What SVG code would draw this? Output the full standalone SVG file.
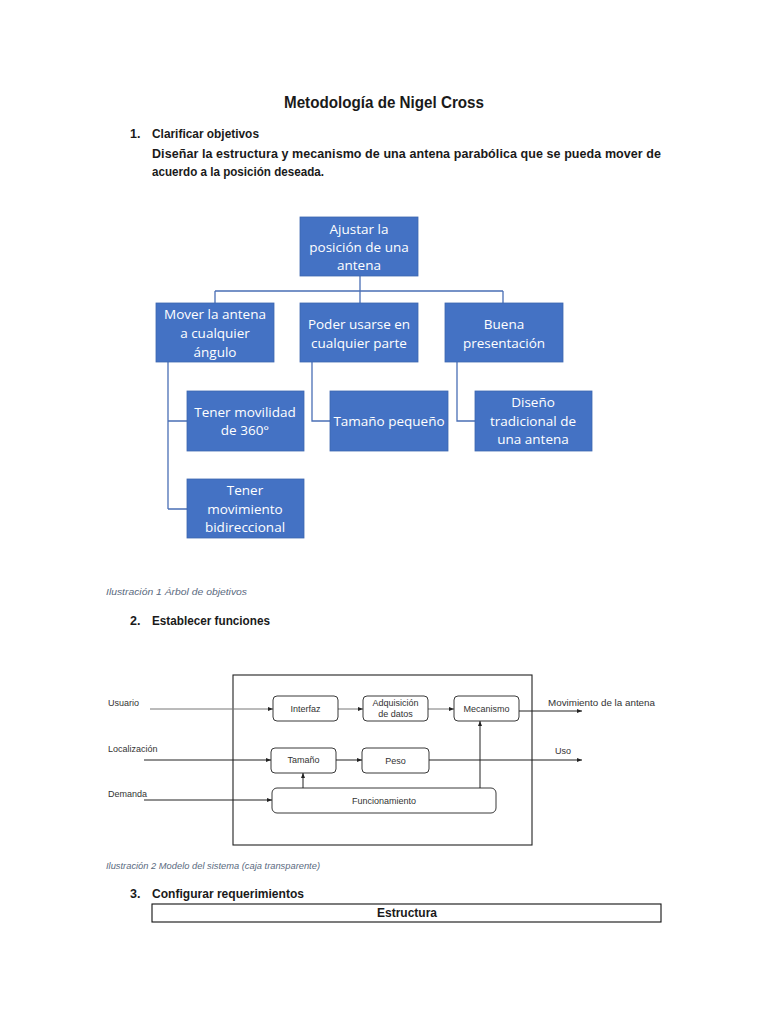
<svg xmlns="http://www.w3.org/2000/svg" width="768" height="1024" viewBox="0 0 768 1024">
<defs>
<style>
.h{font-family:"Liberation Sans",Arial,sans-serif;font-weight:bold;fill:#1a1a1a}
.b{font-family:"Liberation Sans",Arial,sans-serif;font-weight:bold;font-size:12.5px;fill:#1a1a1a}
.box{fill:#4472C4;stroke:#3d66b0;stroke-width:0.8}
.bt{font-family:"Open Sans","Noto Sans",sans-serif;font-size:13.5px;fill:#ffffff;text-anchor:middle}
.tl{fill:none;stroke:#4a6fb5;stroke-width:1.3}
.cap{font-family:"Liberation Sans",Arial,sans-serif;font-style:italic;font-size:9.5px;fill:#5a6a80}
.sb{fill:#ffffff;stroke:#222;stroke-width:0.9}
.st{font-family:"Liberation Sans",Arial,sans-serif;font-size:9px;fill:#333;text-anchor:middle}
.sl{font-family:"Liberation Sans",Arial,sans-serif;font-size:9px;fill:#333}
.ln{fill:none;stroke:#222;stroke-width:1;marker-end:url(#ah)}
.lg{fill:none;stroke:#777;stroke-width:1;marker-end:url(#ah)}
</style>
<marker id="ah" markerWidth="6" markerHeight="6" refX="5" refY="3" orient="auto" markerUnits="userSpaceOnUse">
<path d="M0,1 L5,3 L0,5 Z" fill="#222"/>
</marker>
</defs>
<rect width="768" height="1024" fill="#ffffff"/>

<text class="h" x="384" y="108" font-size="16" text-anchor="middle" textLength="200" lengthAdjust="spacingAndGlyphs">Metodología de Nigel Cross</text>
<text class="b" x="130" y="138">1.</text>
<text class="b" x="152" y="138" textLength="107" lengthAdjust="spacingAndGlyphs">Clarificar objetivos</text>
<text class="b" x="152" y="158" textLength="509" lengthAdjust="spacing">Diseñar la estructura y mecanismo de una antena parabólica que se pueda mover de</text>
<text class="b" x="152" y="176" textLength="172" lengthAdjust="spacingAndGlyphs">acuerdo a la posición deseada.</text>

<g id="tree-connectors">
<path class="tl" d="M360,276 V303 M215,291 H503 M215,291 V303 M503,291 V303"/>
<path class="tl" d="M168,362 V509 M168,421 H187 M168,509 H187"/>
<path class="tl" d="M312,362 V421 H330"/>
<path class="tl" d="M457,362 V421 H475"/>
</g>
<g id="n-ajustar"><rect class="box" x="300" y="217" width="118" height="59"/>
<text class="bt" x="359" y="234">Ajustar la</text><text class="bt" x="359" y="252">posición de una</text><text class="bt" x="359" y="270">antena</text></g>
<g id="n-mover"><rect class="box" x="156" y="303" width="118" height="59"/>
<text class="bt" x="215" y="319">Mover la antena</text><text class="bt" x="215" y="338">a cualquier</text><text class="bt" x="215" y="357">ángulo</text></g>
<g id="n-poder"><rect class="box" x="300" y="303" width="118" height="59"/>
<text class="bt" x="359" y="329">Poder usarse en</text><text class="bt" x="359" y="348">cualquier parte</text></g>
<g id="n-buena"><rect class="box" x="445" y="303" width="118" height="59"/>
<text class="bt" x="504" y="329">Buena</text><text class="bt" x="504" y="348">presentación</text></g>
<g id="n-360"><rect class="box" x="187" y="391" width="117" height="60"/>
<text class="bt" x="245" y="417">Tener movilidad</text><text class="bt" x="245" y="435">de 360°</text></g>
<g id="n-tamano"><rect class="box" x="330" y="391" width="118" height="60"/>
<text class="bt" x="389" y="426">Tamaño pequeño</text></g>
<g id="n-diseno"><rect class="box" x="475" y="391" width="117" height="60"/>
<text class="bt" x="533" y="407">Diseño</text><text class="bt" x="533" y="426">tradicional de</text><text class="bt" x="533" y="444">una antena</text></g>
<g id="n-bidir"><rect class="box" x="187" y="479" width="117" height="59"/>
<text class="bt" x="245" y="495">Tener</text><text class="bt" x="245" y="514">movimiento</text><text class="bt" x="245" y="532">bidireccional</text></g>

<text class="cap" x="106" y="595" textLength="141" lengthAdjust="spacingAndGlyphs">Ilustración 1 Árbol de objetivos</text>
<text class="b" x="130" y="625">2.</text>
<text class="b" x="152" y="625" textLength="118" lengthAdjust="spacingAndGlyphs">Establecer funciones</text>

<rect x="233" y="675" width="299" height="170" fill="none" stroke="#222" stroke-width="1.1"/>

<g id="system-connectors">
<path class="lg" d="M150,709 H273"/>
<path class="lg" d="M338,709 H363"/>
<path class="lg" d="M428,709 H454"/>
<path class="ln" d="M519,711 H582"/>
<path class="ln" d="M144,760 H271"/>
<path class="ln" d="M336,760 H362"/>
<path class="ln" d="M429,760 H582"/>
<path class="ln" d="M144,800 H272"/>
<path class="ln" d="M303,788 V773"/>
<path class="ln" d="M480,788 V721"/>
</g>
<g id="s-interfaz"><rect class="sb" x="273" y="696" width="65" height="25" rx="4"/><text class="st" x="305.5" y="712">Interfaz</text></g>
<g id="s-adq"><rect class="sb" x="363" y="696" width="65" height="25" rx="4"/><text class="st" x="395.5" y="706">Adquisición</text><text class="st" x="395.5" y="717">de datos</text></g>
<g id="s-mec"><rect class="sb" x="454" y="696" width="65" height="25" rx="4"/><text class="st" x="486.5" y="712">Mecanismo</text></g>
<g id="s-tam"><rect class="sb" x="271" y="748" width="65" height="25" rx="4"/><text class="st" x="303.5" y="763">Tamaño</text></g>
<g id="s-peso"><rect class="sb" x="362" y="748" width="67" height="25" rx="4"/><text class="st" x="395.5" y="764">Peso</text></g>
<g id="s-func"><rect class="sb" x="272" y="788" width="224" height="25" rx="5"/><text class="st" x="384" y="804">Funcionamiento</text></g>
<text class="sl" x="108" y="706">Usuario</text>
<text class="sl" x="108" y="752">Localización</text>
<text class="sl" x="108" y="797">Demanda</text>
<text class="sl" x="548" y="706" textLength="107" lengthAdjust="spacingAndGlyphs">Movimiento de la antena</text>
<text class="sl" x="555" y="754">Uso</text>

<text class="cap" x="106" y="869" textLength="214" lengthAdjust="spacingAndGlyphs">Ilustración 2 Modelo del sistema (caja transparente)</text>
<text class="b" x="130" y="898">3.</text>
<text class="b" x="152" y="898" textLength="152" lengthAdjust="spacingAndGlyphs">Configurar requerimientos</text>
<rect x="152" y="904" width="509" height="18" fill="none" stroke="#111" stroke-width="1.1"/>
<text class="b" x="407" y="917" text-anchor="middle" textLength="60" lengthAdjust="spacingAndGlyphs">Estructura</text>
</svg>
